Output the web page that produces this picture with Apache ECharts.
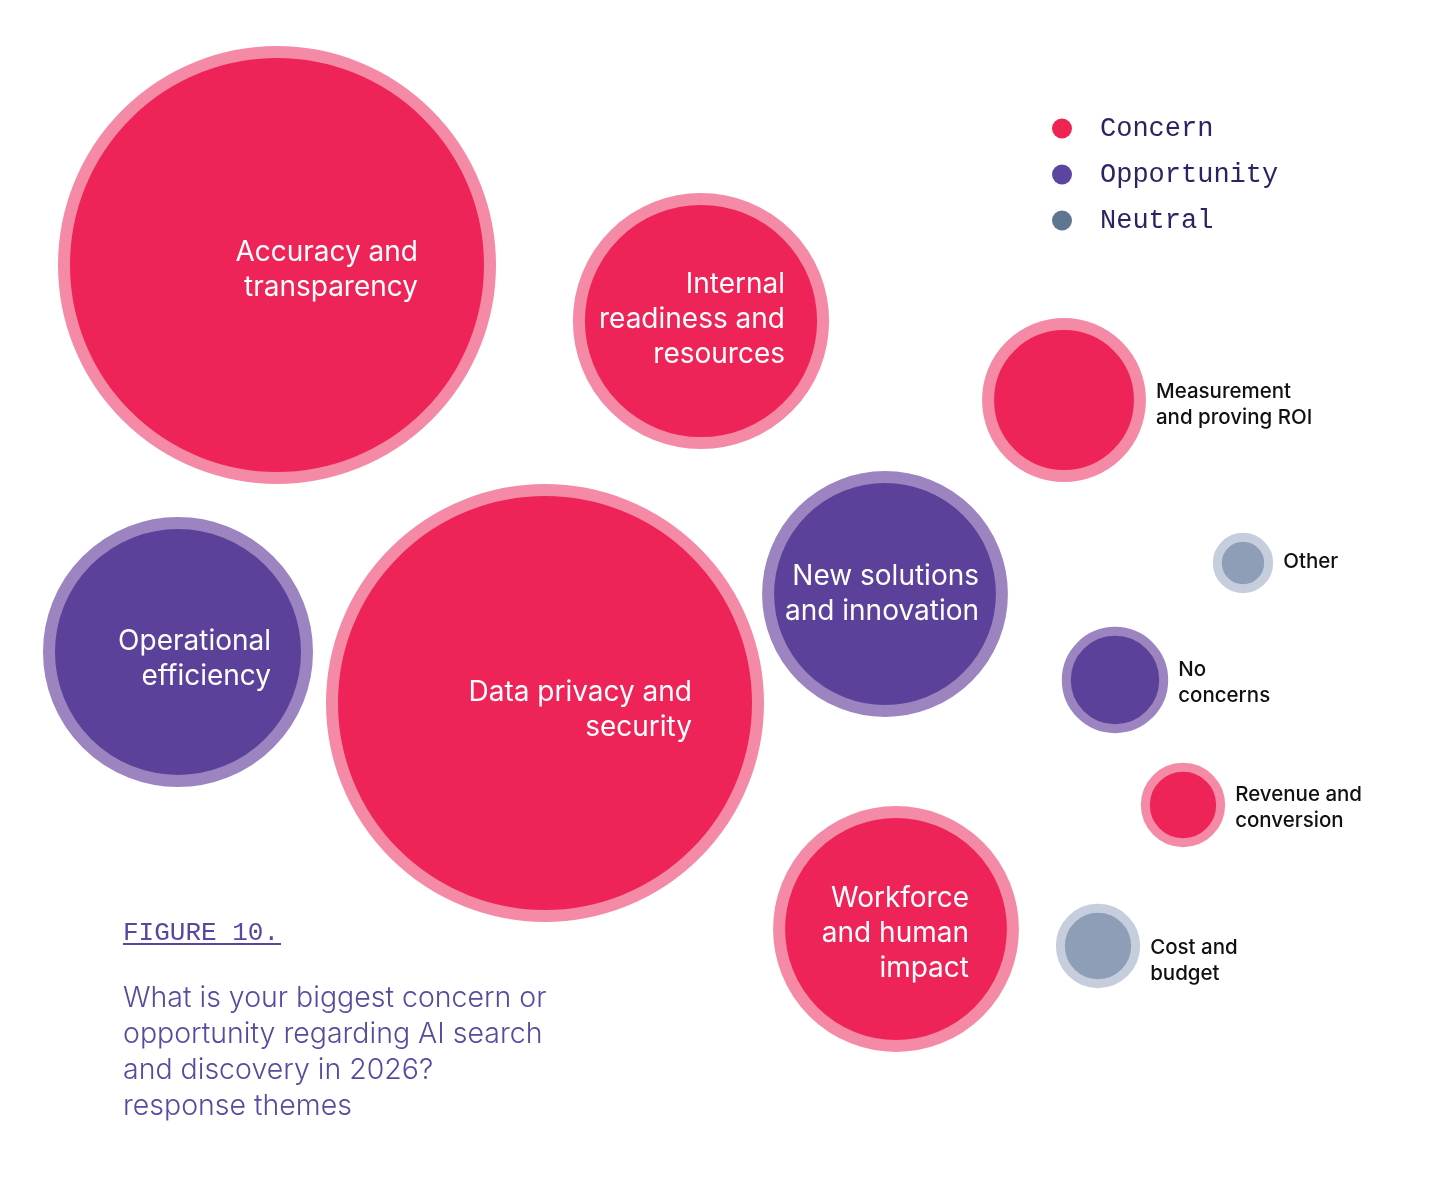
<!DOCTYPE html>
<html>
<head>
<meta charset="utf-8">
<style>
  html, body { margin: 0; padding: 0; background: #ffffff; }
  #chart { width: 1440px; height: 1200px; }
</style>
<script src="https://cdn.jsdelivr.net/npm/echarts@6/dist/echarts.min.js"></script>
</head>
<body>
<div id="chart"></div>
<script>
// ---------- DATA ----------
const themes = [
  'Accuracy and transparency', 'Internal readiness and resources', 'Measurement and proving ROI',
  'Data privacy and security', 'Operational efficiency', 'New solutions and innovation',
  'Other', 'No concerns', 'Revenue and conversion', 'Workforce and human impact', 'Cost and budget'
];
const sentiment = [
  'Concern', 'Concern', 'Concern', 'Concern', 'Opportunity', 'Opportunity',
  'Neutral', 'Opportunity', 'Concern', 'Concern', 'Neutral'
];
// relative mention weight (bubble area), largest theme = 100
const weight = [100, 34.2, 14, 100, 38, 31.5, 1.9, 5.9, 3.7, 31.5, 3.7];
const categories = ['Concern', 'Opportunity', 'Neutral'];

// ---------- PRESENTATION ----------
// packed-bubble layout coordinates (hidden axes)
const layoutX = [277, 701, 1064, 545, 178, 885, 1243, 1115, 1183, 896, 1098];
const layoutY = [265, 321, 400, 703, 652, 594, 563, 680, 805, 929, 946];
const labelText = [
  'Accuracy and\ntransparency', 'Internal\nreadiness and\nresources', 'Measurement\nand proving ROI',
  'Data privacy and\nsecurity', 'Operational\nefficiency', 'New solutions\nand innovation',
  'Other', 'No\nconcerns', 'Revenue and\nconversion', 'Workforce\nand human\nimpact', 'Cost and\nbudget'
];
const labelOffset = [
  [141, 5], [84, -1], [0, 5], [147, 7], [93, 7], [94, 0],
  [0, -1], [0, 3], [0, 3], [73, 5], [0, 15]
];
const palette = {
  Concern:     { fill: '#EE2459', ring: '#F48AA6', legend: '#EE2452' },
  Opportunity: { fill: '#5B4199', ring: '#9C84C0', legend: '#5B45A0' },
  Neutral:     { fill: '#8E9EB7', ring: '#C6CEDD', legend: '#5F7590' }
};
const MAX_R = 219;
function outerR(v) { return MAX_R * Math.sqrt(v / 100); }
function ringW(R) { return R >= 80 ? 12 : 9; }

const seriesList = categories.map(cat => {
  const data = [];
  themes.forEach((name, i) => {
    if (sentiment[i] !== cat) return;
    const R = outerR(weight[i]);
    const ring = ringW(R);
    const inside = R >= 100;
    data.push({
      name: name,
      value: [layoutX[i], layoutY[i], weight[i]],
      symbolSize: 2 * (R - ring / 2),
      itemStyle: { borderWidth: ring },
      label: inside ? {
        show: true, position: 'inside', align: 'right',
        offset: labelOffset[i], formatter: labelText[i],
        color: '#ffffff', fontSize: 28, lineHeight: 35,
        fontFamily: 'Inter', fontWeight: 400
      } : {
        show: true, position: 'right', distance: 10,
        offset: labelOffset[i], formatter: labelText[i],
        color: '#111111', fontSize: 20.5, lineHeight: 26,
        fontFamily: 'Inter', fontWeight: 500, align: 'left'
      }
    });
  });
  return {
    name: cat,
    type: 'scatter',
    data: data,
    itemStyle: { color: palette[cat].fill, borderColor: palette[cat].ring, opacity: 1 },
    emphasis: { disabled: true },
    z: 2
  };
});

const chart = echarts.init(document.getElementById('chart'), null, { renderer: 'canvas' });
chart.setOption({
  backgroundColor: '#ffffff',
  animation: false,
  grid: { left: 0, right: 0, top: 0, bottom: 0 },
  xAxis: { type: 'value', min: 0, max: 1440, show: false },
  yAxis: { type: 'value', min: 0, max: 1200, inverse: true, show: false },
  legend: {
    orient: 'vertical',
    left: 1047, top: 110,
    icon: 'circle',
    itemWidth: 20, itemHeight: 20, itemGap: 19,
    selectedMode: false,
    data: categories.map(c => ({
      name: c,
      itemStyle: { color: palette[c].legend, borderWidth: 0 }
    })),
    textStyle: {
      fontFamily: 'Liberation Mono', fontSize: 27, color: '#2B2462',
      padding: [0, 0, 0, 23]
    }
  },
  title: [
    {
      text: 'FIGURE 10.',
      left: 118, top: 915,
      textStyle: { fontFamily: 'Liberation Mono', fontSize: 26, fontWeight: 400, color: '#5B45A0' }
    },
    {
      text: 'What is your biggest concern or\nopportunity regarding AI search\nand discovery in 2026?\nresponse themes',
      left: 118, top: 975,
      textStyle: { fontFamily: 'Inter', fontSize: 28.5, fontWeight: 300, color: '#5A4A9E', lineHeight: 36 }
    }
  ],
  graphic: [
    { type: 'line', shape: { x1: 123, y1: 944, x2: 281, y2: 944 }, style: { stroke: '#5B45A0', lineWidth: 2 } }
  ],
  series: seriesList
});
</script>
</body>
</html>
